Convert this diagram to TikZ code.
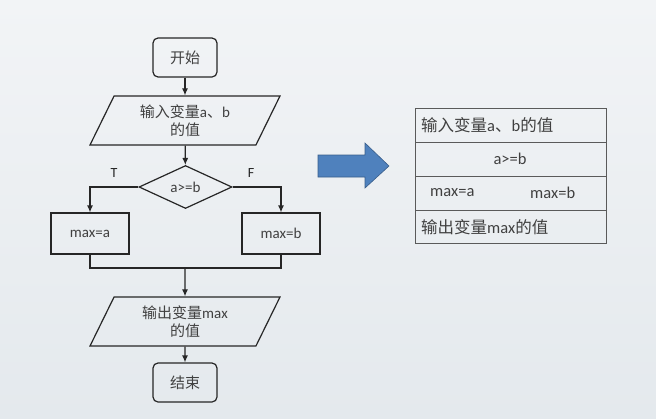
\documentclass[tikz,border=0pt]{standalone}
\usepackage{fontspec}
\setmainfont{Carlito}
\newfontfamily\cjk{Noto Sans CJK SC}
\usetikzlibrary{shapes.geometric,arrows.meta}
\newcommand\zh[1]{{\cjk #1}}
\definecolor{bgtop}{RGB}{242,244,246}
\definecolor{bgbot}{RGB}{228,233,237}
\definecolor{txt}{RGB}{64,64,64}
\definecolor{ablue}{RGB}{79,129,189}
\definecolor{ablueb}{RGB}{56,93,138}
\definecolor{tline}{RGB}{90,90,90}
\tikzset{
  x=1pt,y=-1pt,
  base/.style={draw=black!85,line width=1.2pt,text=txt,font=\fontsize{15}{18}\selectfont,inner sep=0pt,align=center},
  term/.style={base,rectangle,rounded corners=5pt,minimum width=64pt,minimum height=39pt},
  io/.style={base,trapezium,trapezium left angle=53,trapezium right angle=127,trapezium stretches body,minimum width=190pt,minimum height=49pt},
  dec/.style={base,diamond,minimum width=93pt,minimum height=43pt,aspect=2.16},
  proc/.style={base,rectangle,minimum width=78pt,minimum height=41pt},
  flow/.style={draw=black!85,line width=1.2pt,-{Latex[length=7pt,width=6pt]}},
  line/.style={draw=black!85,line width=1.2pt},
  lab/.style={font=\fontsize{14}{16}\selectfont,text=black!85,inner sep=0pt},
  cell/.style={font=\fontsize{16.5}{19}\selectfont,text=txt,inner sep=0pt},
}
\begin{document}
\begin{tikzpicture}
\shade[top color=bgtop,bottom color=bgbot] (0,0) rectangle (656,418);
\useasboundingbox (0,0) rectangle (656,418);

% flowchart
\node[term] (start) at (185,57.5) {\zh{开始}};
\node[io] (in) at (185,120.5) {\zh{输入变量}a\zh{、}b\\\zh{的值}};
\node[dec] (dia) at (185.5,187) {a>=b};
\node[proc] (pa) at (90,233.5) {max=a};
\node[proc] (pb) at (281,233.5) {max=b};
\coordinate (m) at (185,268);
\node[io] (out) at (185,321.5) {\zh{输出变量}max\\\zh{的值}};
\node[term] (end) at (185,382.5) {\zh{结束}};
\node[lab] (T) at (114,173) {T};
\node[lab] (F) at (251,173) {F};

\draw[flow] (start) -- (in);
\draw[flow] (in) -- (dia);
\draw[flow] (dia.west) -| (pa.north);
\draw[flow] (dia.east) -| (pb.north);
\draw[line] (pa.south) -- (pa.south |- m) -- (pb.south |- m) -- (pb.south);
\draw[flow] (m) -- (out.north);
\draw[flow] (out) -- (end);

% big blue arrow
\filldraw[fill=ablue,draw=ablueb,line width=0.6pt]
  (318,155) -- (365,155) -- (365,143) -- (389,166) -- (365,188) -- (365,177) -- (318,177) -- cycle;

% N-S table
\draw[tline,line width=1pt] (415,108) rectangle (606,243);
\draw[tline,line width=1pt] (415,142) -- (606,142) (415,176) -- (606,176) (415,210) -- (606,210);
\node[cell,anchor=west] (r1) at (421,125) {\zh{输入变量}a\zh{、}b\zh{的值}};
\node[cell] (r2) at (510,159) {a>=b};
\node[cell,anchor=west] (r3a) at (430,193) {max=a};
\node[cell,anchor=west] (r3b) at (530,193) {max=b};
\node[cell,anchor=west] (r4) at (421,227) {\zh{输出变量}max\zh{的值}};
\end{tikzpicture}
\end{document}
